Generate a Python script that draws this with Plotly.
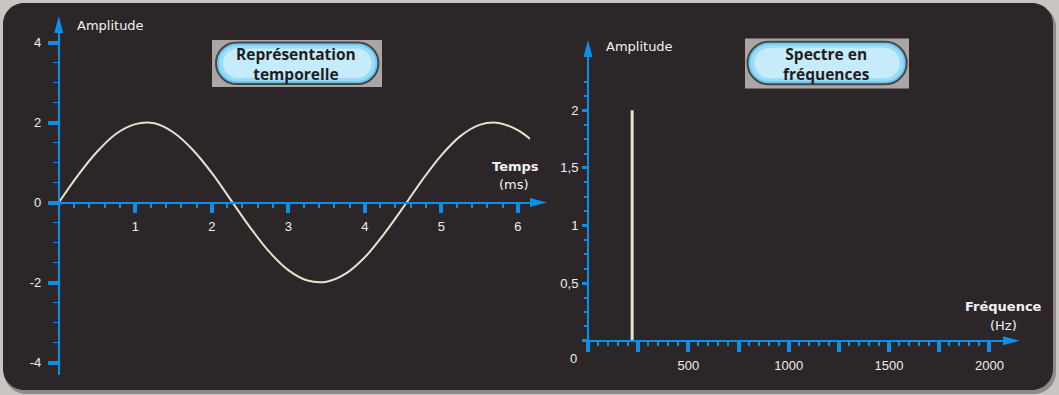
import plotly.graph_objects as go

W, H = 1059, 395

# ---------------- data ----------------
time_ms = [0.0, 0.25, 0.5, 0.75, 1.0, 1.25, 1.5, 1.75, 2.0, 2.25, 2.5, 2.75, 3.0,
           3.25, 3.5, 3.75, 4.0, 4.25, 4.5, 4.75, 5.0, 5.25, 5.5, 5.75, 6.0, 6.16]
amplitude = [0.0, 0.68, 1.27, 1.72, 1.96, 1.98, 1.75, 1.32, 0.74, 0.06, -0.62, -1.23, -1.69,
             -1.95, -1.98, -1.78, -1.37, -0.79, -0.13, 0.56, 1.18, 1.66, 1.94, 1.99, 1.81, 1.59]

freq_hz = [220]
spectrum_amp = [2]

left_x_ticks = [1, 2, 3, 4, 5, 6]
left_x_labels = ["1", "2", "3", "4", "5", "6"]
left_y_ticks = [-4, -2, 0, 2, 4]
left_y_labels = ["-4", "-2", "0", "2", "4"]
right_x_ticks = [0, 250, 500, 750, 1000, 1250, 1500, 1750, 2000]
right_x_labels = ["", "", "500", "", "1000", "", "1500", "", "2000"]
right_y_ticks = [0, 0.5, 1, 1.5, 2]
right_y_labels = ["", "0,5", "1", "1,5", "2"]

left_x_minor = [round(i * 0.2, 1) for i in range(1, 31) if i % 5]
left_y_minor = [v / 2 for v in range(-7, 8) if v % 4]
right_x_minor = [i * 50 for i in range(1, 40) if i % 5]
right_y_minor = [i * 0.125 for i in range(1, 19) if i % 4]

# ---------------- style ----------------
BLUE = "#0b8fea"
CURVE = "#e6e1cd"
PANEL = "#2c2628"
OUTER = "#c9c5c3"
TICKFONT = dict(family="Liberation Sans, Arial, sans-serif", size=13, color="#eeeeee")
LABELFONT = "DejaVu Sans, Verdana, sans-serif"
BTNFONT = dict(family="Open Sans, DejaVu Sans, sans-serif", size=15.5, color="#1e1e1e")


def fx(x):
    return x / W


def fy(y):
    return 1 - y / H


def P(x, y):
    return f"{fx(x):.5f},{fy(y):.5f}"


def rrect(x0, y0, x1, y1, r):
    k = 0.4477 * r
    return (f"M{P(x0 + r, y0)} L{P(x1 - r, y0)} C{P(x1 - k, y0)} {P(x1, y0 + k)} {P(x1, y0 + r)} "
            f"L{P(x1, y1 - r)} C{P(x1, y1 - k)} {P(x1 - k, y1)} {P(x1 - r, y1)} "
            f"L{P(x0 + r, y1)} C{P(x0 + k, y1)} {P(x0, y1 - k)} {P(x0, y1 - r)} "
            f"L{P(x0, y0 + r)} C{P(x0, y0 + k)} {P(x0 + k, y0)} {P(x0 + r, y0)} Z")


# pixel geometry of the two panels
L_X0, L_SX, L_XEND = 58.8, 76.5, 530      # t=0 pixel, px per ms, axis end
L_Y0, L_SY, L_YTOP, L_YBOT = 202.5, 40.0, 33, 375
R_X0, R_SX, R_XEND = 588.0, 0.2007, 1003
R_Y0, R_SY, R_YTOP, R_YBOT = 340.7, 115.2, 57, 352

lx_range = [0, (L_XEND - L_X0) / L_SX]
ly_range = [-(L_YBOT - L_Y0) / L_SY, (L_Y0 - L_YTOP) / L_SY]
rx_range = [0, (R_XEND - R_X0) / R_SX]
ry_range = [-(R_YBOT - R_Y0) / R_SY, (R_Y0 - R_YTOP) / R_SY]

fig = go.Figure()
fig.add_trace(go.Scatter(x=time_ms, y=amplitude, mode="lines", line=dict(color=CURVE, width=2, shape="spline"),
                         xaxis="x", yaxis="y", hoverinfo="skip"))
fig.add_trace(go.Bar(x=freq_hz, y=spectrum_amp, width=15, marker=dict(color=CURVE, line=dict(width=0)),
                     xaxis="x2", yaxis="y2", hoverinfo="skip"))


def axis_common():
    return dict(showgrid=False, zeroline=False, showline=True, linecolor=BLUE, linewidth=2,
                ticks="outside", tickcolor=BLUE, tickfont=TICKFONT, anchor="free", fixedrange=True)


layout = dict(
    width=W, height=H, margin=dict(l=0, r=0, t=0, b=0),
    paper_bgcolor=OUTER, plot_bgcolor="rgba(0,0,0,0)", showlegend=False,
    xaxis=dict(**axis_common(), domain=[fx(L_X0), fx(L_XEND)], range=lx_range, position=fy(L_Y0),
               tickmode="array", tickvals=left_x_ticks, ticktext=left_x_labels, ticklen=9, tickwidth=4,
               ticklabelstandoff=3,
               minor=dict(tickmode="array", tickvals=left_x_minor, ticks="outside", ticklen=4, tickwidth=2,
                          tickcolor=BLUE)),
    yaxis=dict(**axis_common(), domain=[fy(L_YBOT), fy(L_YTOP)], range=ly_range, position=fx(L_X0),
               tickmode="array", tickvals=left_y_ticks, ticktext=left_y_labels, ticklen=10, tickwidth=3.5,
               ticklabelstandoff=4,
               minor=dict(tickmode="array", tickvals=left_y_minor, ticks="outside", ticklen=5, tickwidth=1.2,
                          tickcolor=BLUE)),
    xaxis2=dict(**axis_common(), domain=[fx(R_X0), fx(R_XEND)], range=rx_range, position=fy(R_Y0),
                tickmode="array", tickvals=right_x_ticks, ticktext=right_x_labels, ticklen=10, tickwidth=3.5,
                ticklabelstandoff=3,
                minor=dict(tickmode="array", tickvals=right_x_minor, ticks="outside", ticklen=4, tickwidth=2,
                           tickcolor=BLUE)),
    yaxis2=dict(**axis_common(), domain=[fy(R_YBOT), fy(R_YTOP)], range=ry_range, position=fx(R_X0),
                tickmode="array", tickvals=right_y_ticks, ticktext=right_y_labels, ticklen=5, tickwidth=3,
                ticklabelstandoff=1,
                minor=dict(tickmode="array", tickvals=right_y_minor, ticks="outside", ticklen=3, tickwidth=1.5,
                           tickcolor=BLUE)),
)

shapes = [
    dict(type="path", xref="paper", yref="paper", path=rrect(4, 5, 1056, 394, 22),
         fillcolor="#8e8a89", line=dict(width=0), layer="below"),
    dict(type="path", xref="paper", yref="paper", path=rrect(3, 3, 1053, 390, 21),
         fillcolor=PANEL, line=dict(width=0), layer="below"),
]


def button(gx0, gy0, gx1, gy1, px0, py0, px1, py1):
    r = (py1 - py0) / 2
    out = [dict(type="rect", xref="paper", yref="paper", x0=fx(gx0), x1=fx(gx1), y0=fy(gy1), y1=fy(gy0),
                fillcolor="#aba6a4", line=dict(width=0), layer="below"),
           dict(type="path", xref="paper", yref="paper", path=rrect(px0, py0, px1, py1, r),
                fillcolor="#6cc9f5", line=dict(color="#474747", width=2), layer="below"),
           dict(type="path", xref="paper", yref="paper", path=rrect(px0 + 3, py0 + 3, px1 - 3, py1 - 3, r - 3),
                fillcolor="#9bdbf8", line=dict(width=0), layer="below"),
           dict(type="path", xref="paper", yref="paper", path=rrect(px0 + 7, py0 + 6, px1 - 7, py1 - 6, r - 6),
                fillcolor="#c6ebfb", line=dict(width=0), layer="below")]
    return out


shapes += button(212, 40, 382, 87, 216, 42.5, 378.5, 84)
shapes += button(745, 38.5, 909, 88.5, 747.5, 41.7, 906.7, 84.3)


# axis arrow heads at the end of each axis line (paper coords, not clipped)
def arrow_right(xb, yc, length=17, half=4.5):
    return f"M{P(xb, yc - half)} L{P(xb + length, yc)} L{P(xb, yc + half)} Z"


def arrow_up(xc, yb, length=17, half=4.5):
    return f"M{P(xc - half, yb)} L{P(xc, yb - length)} L{P(xc + half, yb)} Z"


for path in [arrow_right(L_XEND, L_Y0), arrow_right(R_XEND, R_Y0),
             arrow_up(L_X0, L_YTOP), arrow_up(R_X0, R_YTOP)]:
    shapes.append(dict(type="path", xref="paper", yref="paper", path=path, fillcolor=BLUE,
                       line=dict(width=0), layer="above"))

layout["shapes"] = shapes


def txt(x, y, s, size=13, color="#f2f2f2", family=LABELFONT):
    return dict(xref="paper", yref="paper", x=fx(x), y=fy(y), text=s, showarrow=False,
                xanchor="center", yanchor="middle", font=dict(family=family, size=size, color=color))


def btn_txt(x, y, s):
    return dict(xref="paper", yref="paper", x=fx(x), y=fy(y), text=f"<b>{s}</b>", showarrow=False,
                xanchor="center", yanchor="middle", font=BTNFONT, borderpad=0)


layout["annotations"] = [
    txt(110, 25, "Amplitude"),
    txt(639, 47, "Amplitude"),
    txt(515, 166, "<b>Temps</b>"),
    txt(514, 184, "(ms)"),
    txt(1003, 306, "<b>Fréquence</b>"),
    txt(1003, 325, "(Hz)"),
    txt(573, 358, "0", family=TICKFONT["family"], size=13, color="#eeeeee"),
    btn_txt(296, 64, "Représentation<br>temporelle"),
    btn_txt(826, 64, "Spectre en<br>fréquences"),
]

fig.update_layout(**layout)
fig.write_html("out.html", config={"displayModeBar": False},
               post_script="document.body.style.margin='0';document.body.style.overflow='hidden';")
